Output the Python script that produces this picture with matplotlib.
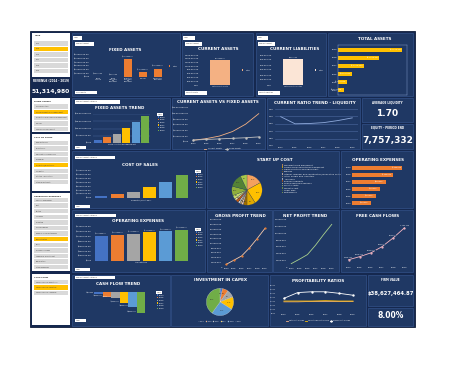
import numpy as np
import matplotlib.pyplot as plt
from matplotlib.patches import Rectangle
from matplotlib.ticker import FuncFormatter

W, H = 474, 366
BG = '#15284f'
PANEL = '#1f3864'
EDGE = '#3a5b95'
GRID = '#4d6aa0'
TXT = 'white'
TS = 1.5

# ---- data ----
years = ['2014', '2015', '2016', '2017', '2018', '2019']
year_colors = ['#4472c4', '#ed7d31', '#a5a5a5', '#ffc000', '#5b9bd5', '#70ad47']

slicer_fixed = ['Office furniture', 'Office computers and equipment',
                'Production machinery and equipment', 'Vehicles', 'Commercial equipment']
slicer_cos = ['Raw materials', 'Direct labor', 'Manufacturing overhead', 'Packaging',
              'Production/direct labor', 'Freight in', 'Utilities - production', 'Other direct costs']
slicer_opex = ['Salaries and wages', 'Rent', 'Utilities', 'Insurance', 'Marketing',
               'Office supplies', 'Repairs and maintenance', 'Administration', 'Travel',
               'Professional fees', 'Telephone and internet', 'Depreciation', 'Other expenses']
slicer_cash = ['Cash flow from operations', 'Cash flow from investing', 'Cash flow from financing']
revenue_total = '51,314,980'

fixed_cats = ['Office\nfurniture', 'Office\ncomputers\nand\nequipment', 'Production\nmachinery\nand\nequipment',
              'Vehicles', 'Commercial\nequipment']
fixed_vals = [120000, 60000, 4800000, 1400000, 2300000]

current_assets = 1350000
current_liabilities = 790000

total_assets = [3250000, 5150000, 8000000, 14700000, 23600000, 36500000]

fa_trend = [2300000, 4200000, 6000000, 10500000, 14200000, 18800000]

ca_line = [600000, 1200000, 2100000, 3700000, 6300000, 10000000]
fa_line = [700000, 900000, 1100000, 1300000, 1500000, 1800000]

current_ratio = [1.98, 1.50, 1.52, 1.58, 1.72, 1.90]
avg_liquidity = '1.70'
equity_end = '7,757,332'

cost_of_sales = [420000, 1000000, 1600000, 2800000, 4100000, 5900000]

startup_items = ['Manufacturing equipment', 'Commercial and kitchen equipment',
                 'Office furniture and equipment', 'Vehicles',
                 'Interior remodel and construction/renovation costs', 'Initial supply and inventory',
                 'Insurance', 'Business permits', 'Grand opening expenses', 'Facility costs',
                 'Website cost', 'Legal fees', 'Contingency']
startup_vals = [17, 24, 9, 4, 2, 2, 2, 3, 2, 4, 10, 14, 7]
startup_colors = ['#f4a15d', '#ffc000', '#e0a800', '#9c6b00', '#f8cbad', '#c9a66b', '#d9d9d9',
                  '#c55a11', '#ffe699', '#c5d96a', '#8fae3c', '#548235', '#a9c84a']

opex_years = [1290000, 1050000, 860000, 720000, 620000, 480000]  # 2019 .. 2014

opex_admin = [1020000, 1060000, 1130000, 1180000, 1220000, 1290000]

gross_profit = [1100000, 2900000, 4700000, 8100000, 12100000, 16400000]
net_profit = [1000000, 2300000, 3700000, 6500000, 9700000, 12700000]
free_cash = [1920450, 2876300, 4032870, 5951200, 8634500, 11702340]

cash_flow = [-550000, -1300000, -1600000, -3000000, -4000000, -5600000]

capex_share = [3, 7, 9, 15, 26, 40]

ratio_names = ['Net profit margin', 'Operating profit margin', 'Gross profit margin']
ratio_net = [0.29, 0.29, 0.30, 0.30, 0.30, 0.30]
ratio_op = [0.31, 0.31, 0.31, 0.32, 0.31, 0.31]
ratio_gross = [0.38, 0.53, 0.55, 0.55, 0.51, 0.46]

firm_value = '$38,627,464.87'
discount_rate = '8.00%'

money = FuncFormatter(lambda v, p: f'${v:,.2f}')
plain = FuncFormatter(lambda v, p: f'{v:,.2f}')

fig = plt.figure(figsize=(W / 100, H / 100), dpi=100)
fig.patch.set_facecolor('white')


def box(x0, y0, x1, y1, fc, ec='none', lw=0, z=-5):
    fig.patches.append(Rectangle((x0 / W, 1 - y1 / H), (x1 - x0) / W, (y1 - y0) / H,
                                 transform=fig.transFigure, fc=fc, ec=ec, lw=lw, zorder=z))


def label(x, y, s, size, color=TXT, weight='normal', ha='center'):
    fig.text(x / W, 1 - y / H, s, fontsize=size, color=color, fontweight=weight,
             ha=ha, va='center')


def title(x, y, s):
    label(x, y, s, 3.0, weight='bold')


def panel(x0, y0, x1, y1):
    box(x0, y0, x1, y1, PANEL, EDGE, 0.4)


def button(x0, y0, x1, y1, s):
    box(x0, y0, x1, y1, 'white', z=-1)
    label(x0 + 1, (y0 + y1) / 2, s, 1.2, color='#333333', ha='left')


def chart(x0, y0, x1, y1):
    ax = fig.add_axes([x0 / W, 1 - y1 / H, (x1 - x0) / W, (y1 - y0) / H])
    ax.set_facecolor('none')
    for s in ax.spines.values():
        s.set_visible(False)
    ax.tick_params(colors=TXT, labelsize=TS, length=0, pad=0.8)
    return ax


def year_legend(ax, handles, x, y):
    leg = ax.legend(handles, years, loc='upper left', bbox_to_anchor=(x / W, 1 - y / H),
                    bbox_transform=fig.transFigure, fontsize=1.5, frameon=False,
                    labelcolor=TXT, handlelength=0.6, handleheight=0.6, labelspacing=0.6,
                    title='Year', title_fontsize=1.5, borderpad=0, handletextpad=0.4)
    leg.get_title().set_color('#333333')
    leg.get_title().set_bbox(dict(fc='white', ec='none', pad=0.6))
    leg._legend_box.align = 'left'


def slicer(x0, y0, x1, y1, header, items, sel, first, step):
    box(x0, y0, x1, y1, 'white', z=-4)
    label(x0 + 2, y0 + 3, header, 1.5, color='#333333', weight='bold', ha='left')
    for i, it in enumerate(items):
        yy = first + i * step
        box(x0 + 2, yy - 2.2, x1 - 2, yy + 2.2, '#ffc000' if i == sel else '#d9d9d9', z=-3)
        label(x0 + 4, yy, it, 1.2, color='#404040', ha='left')


# ---- dashboard background ----
box(30, 31, 415, 327, BG, '#0e1c3a', 0.6, z=-6)

# ---- sidebar ----
slicer(32, 33, 70, 77, 'YEAR', years, 1, 43.3, 5.5)
label(51, 81, 'REVENUE (2014 - 2019)', 2.0, weight='bold')
label(51, 91, revenue_total, 4.3, weight='bold')
slicer(32, 98, 70, 132, 'FIXED ASSETS', slicer_fixed, 1, 106.5, 5.6)
slicer(32, 134, 70, 191, 'COST OF SALES', slicer_cos, 4, 142.7, 5.65)
slicer(32, 193, 70, 271, 'OPERATING EXPENSES', slicer_opex, 7, 200, 5.6)
slicer(32, 274, 70, 325, 'CASH FLOW', slicer_cash, 1, 282, 5.4)

# ---- row 1 ----
panel(72, 33, 180, 96)
button(73, 36, 82, 39.5, 'Year')
button(75, 42, 94, 45.5, 'Sum of Amount')
button(75, 90.5, 97, 94, 'Fixed assets')
title(125, 50, 'FIXED ASSETS')
ax = chart(91, 55, 165, 77)
bars = ax.bar(range(len(fixed_vals)), fixed_vals, color='#ed7d31', width=0.5, label='Total')
ax.set_ylim(0, 6000000)
ax.set_yticks(np.arange(0, 6000001, 1000000))
ax.yaxis.set_major_formatter(money)
ax.set_xticks(range(len(fixed_cats)))
ax.set_xticklabels(fixed_cats, fontsize=1.2, linespacing=0.9)
ax.axhline(0, color='#8faadc', lw=0.4)
ax.bar_label(bars, labels=[f'${v:,.2f}' for v in fixed_vals], fontsize=1.2, color=TXT, padding=0.8)
ax.legend(loc='center left', bbox_to_anchor=(1.03, 0.5), fontsize=1.5, frameon=False,
          labelcolor=TXT, handlelength=0.6, handleheight=0.6)

panel(182, 33, 253, 96)
button(183, 36, 195, 39.5, 'Year')
button(185, 42, 202, 45.5, 'Sum of Amount')
button(185, 91, 207, 94.5, 'Current assets')
title(218, 49, 'CURRENT ASSETS')
ax = chart(200, 55, 240, 85)
bars = ax.bar([0], [current_assets], color='#f4b183', width=1.0, label='Total')
ax.set_xlim(-1, 1)
ax.set_ylim(0, 1600000)
ax.set_yticks(np.arange(0, 1600001, 200000))
ax.yaxis.set_major_formatter(plain)
ax.set_xticks([0])
ax.set_xticklabels(['Total current assets'], fontsize=1.2)
ax.axhline(0, color='#8faadc', lw=0.4)
ax.bar_label(bars, labels=[f'{current_assets:,.2f}'], fontsize=1.2, color=TXT, padding=0.8)
ax.legend(loc='center left', bbox_to_anchor=(1.0, 0.5), fontsize=1.5, frameon=False,
          labelcolor=TXT, handlelength=0.6, handleheight=0.6)

panel(256, 33, 326, 96)
button(257, 36, 268, 39.5, 'Year')
button(258, 42, 275, 45.5, 'Sum of Amount')
button(258, 91, 280, 94.5, 'Current liabilities')
title(295, 49, 'CURRENT LIABILITIES')
ax = chart(273, 55, 313, 85)
bars = ax.bar([0], [current_liabilities], color='#fbe5d6', width=1.0, label='Total')
ax.set_xlim(-1, 1)
ax.set_ylim(0, 900000)
ax.set_yticks(np.arange(0, 900001, 150000))
ax.yaxis.set_major_formatter(plain)
ax.set_xticks([0])
ax.set_xticklabels(['Total current liabilities'], fontsize=1.2)
ax.axhline(0, color='#8faadc', lw=0.4)
ax.bar_label(bars, labels=[f'{current_liabilities:,.2f}'], fontsize=1.2, color=TXT, padding=0.8)
ax.legend(loc='center left', bbox_to_anchor=(1.0, 0.5), fontsize=1.5, frameon=False,
          labelcolor=TXT, handlelength=0.6, handleheight=0.6)

panel(328, 33, 413, 96)
title(375, 39, 'TOTAL ASSETS')
ax = chart(338, 45, 407, 95)
for s in ax.spines.values():
    s.set_visible(True)
    s.set_color('#8faadc')
    s.set_linewidth(0.3)
ypos = np.arange(len(years))
bars = ax.barh(ypos, total_assets, color='#ffc000', height=0.55)
ax.set_yticks(ypos)
ax.set_yticklabels(years)
ax.set_ylim(-0.6, 5.6)
ax.set_xlim(0, max(total_assets) * 1.08)
ax.set_xticks([])
ax.bar_label(bars, labels=[f'${v:,.0f}' for v in total_assets], fontsize=1.4, color=TXT,
             label_type='edge', padding=-9)

# ---- row 2 ----
panel(72, 98, 170, 149)
button(75, 100, 120, 103.5, 'Sum of Amount  Category')
button(75, 146, 86, 149, 'Year')
title(120, 108, 'FIXED ASSETS TREND')
ax = chart(93, 114, 150, 143)
hs = [ax.bar(i, v, color=c, width=0.85) for i, (v, c) in enumerate(zip(fa_trend, year_colors))]
ax.set_xlim(-0.5, 5.5)
ax.set_ylim(0, 20000000)
ax.set_yticks(np.arange(0, 20000001, 5000000))
ax.yaxis.set_major_formatter(money)
ax.grid(axis='y', color=GRID, lw=0.3)
ax.set_axisbelow(True)
ax.set_xticks([2.5])
ax.set_xticklabels(['Office furniture and equipment'], fontsize=1.3)
year_legend(ax, hs, 157, 113)

panel(172, 98, 265, 149)
title(218, 102, 'CURRENT ASSETS VS FIXED ASSETS')
ax = chart(190, 108, 262, 142)
ax.plot(years, ca_line, color='#f4b183', lw=0.6, label='Current assets')
ax.plot(years, fa_line, color='#bfbfbf', lw=0.6, marker='o', ms=0.8, mfc='#404040',
        label='Fixed assets')
ax.set_ylim(0, 12000000)
ax.set_yticks(np.arange(0, 12000001, 2000000))
ax.yaxis.set_major_formatter(money)
ax.axhline(0, color='#8faadc', lw=0.4)
ax.legend(loc='upper center', bbox_to_anchor=(0.45, -0.12), ncol=2, fontsize=1.4,
          frameon=False, labelcolor=TXT, handlelength=1.2)

panel(267, 98, 360, 149)
title(315, 102, 'CURRENT RATIO TREND - LIQUIDITY')
ax = chart(275, 109, 358, 146)
ax.plot(years, current_ratio, color='#8faadc', lw=0.6)
ax.set_ylim(0, 2.5)
ax.set_yticks(np.arange(0, 2.51, 0.5))
ax.yaxis.set_major_formatter(FuncFormatter(lambda v, p: f'{v:.2f}'))
ax.grid(axis='y', color=GRID, lw=0.4)
ax.set_xlim(-0.4, 5.4)

panel(362, 98, 413, 122)
label(387.5, 102, 'AVERAGE LIQUIDITY', 2.0, weight='bold')
label(387.5, 114, avg_liquidity, 6.5, weight='bold')
panel(362, 124, 413, 149)
label(387.5, 128, 'EQUITY - PERIOD END', 2.0, weight='bold')
label(387.5, 141, equity_end, 6.5, weight='bold')

# ---- row 3 ----
panel(72, 151, 205, 208)
button(75, 155.5, 115, 159, 'Sum of Amount  Category')
button(75, 205, 90, 208, 'Year')
title(140, 165, 'COST OF SALES')
ax = chart(93, 171, 190, 198)
hs = [ax.bar(i, v, color=c, width=0.78) for i, (v, c) in enumerate(zip(cost_of_sales, year_colors))]
ax.set_xlim(-0.5, 5.5)
ax.set_ylim(0, 7000000)
ax.set_yticks(np.arange(0, 7000001, 1000000))
ax.yaxis.set_major_formatter(money)
ax.axhline(0, color='#8faadc', lw=0.4)
ax.set_xticks([2.5])
ax.set_xticklabels(['Production/direct labor'], fontsize=1.3)
year_legend(ax, hs, 195, 170)

panel(207, 151, 339, 208)
title(275, 160, 'START UP COST')
ax = fig.add_axes([228 / W, 1 - 209 / H, 38 / W, 38 / H])
wedges, _, autos = ax.pie(startup_vals, colors=startup_colors, startangle=90, counterclock=False,
                          autopct='%1.0f%%', pctdistance=0.78,
                          textprops=dict(fontsize=1.4, color='#333333'),
                          wedgeprops=dict(ec='#1f3864', lw=0.15))
ax.set_aspect('equal')
ax.legend(wedges, startup_items, loc='upper left', bbox_to_anchor=(281 / W, 1 - 163 / H),
          bbox_transform=fig.transFigure, fontsize=1.6, frameon=False, labelcolor=TXT,
          handlelength=0.6, handleheight=0.6, labelspacing=0.35, borderpad=0, handletextpad=0.4)

panel(341, 151, 413, 208)
title(378, 160, 'OPERATING EXPENSES')
ax = chart(352, 164, 405, 207)
ypos = np.arange(len(years))
bars = ax.barh(ypos, opex_years, color='#ed7d31', height=0.55)
ax.set_yticks(ypos)
ax.set_yticklabels(years[::-1])
ax.invert_yaxis()
ax.set_xlim(0, max(opex_years) * 1.05)
ax.set_xticks([])
ax.bar_label(bars, labels=[f'${v:,.0f}' for v in opex_years], fontsize=1.3, color=TXT,
             label_type='edge', padding=-8)

# ---- row 4 ----
panel(72, 210, 205, 272)
button(75, 213.5, 116, 217, 'Sum of Amount  Category')
button(75, 267.5, 90, 271, 'Year')
title(138, 221, 'OPERATING EXPENSES')
ax = chart(93, 227, 190, 261)
hs = []
for i, (v, c) in enumerate(zip(opex_admin, year_colors)):
    b = ax.bar(i, v, color=c, width=0.8)
    ax.bar_label(b, labels=[f'${v:,.2f}'], fontsize=1.2, color=TXT, padding=0.6)
    hs.append(b)
ax.set_xlim(-0.5, 5.5)
ax.set_ylim(0, 1400000)
ax.set_yticks(np.arange(0, 1400001, 200000))
ax.yaxis.set_major_formatter(money)
ax.axhline(0, color='#8faadc', lw=0.4)
ax.set_xticks([2.5])
ax.set_xticklabels(['Administration'], fontsize=1.3)
year_legend(ax, hs, 195, 228)

panel(207, 210, 272, 272)
title(240, 216, 'GROSS PROFIT TREND')
ax = chart(223, 220, 268, 267)
ax.plot(years, gross_profit, color='#f8cbad', lw=0.6, marker='o', ms=0.6, mfc='#ed7d31', mec='#ed7d31')
ax.set_ylim(0, 20000000)
ax.set_yticks(np.arange(0, 20000001, 2000000))
ax.yaxis.set_major_formatter(FuncFormatter(lambda v, p: f'{v:,.0f}'))
ax.axhline(0, color='#8faadc', lw=0.4)
ax.set_xlim(-0.4, 5.4)

panel(273, 210, 339, 272)
title(305, 216, 'NET PROFIT TREND')
ax = chart(288, 220, 335, 267)
ax.plot(years, net_profit, color='#a9d18e', lw=0.6)
ax.set_ylim(0, 14000000)
ax.set_yticks(np.arange(0, 14000001, 2000000))
ax.yaxis.set_major_formatter(FuncFormatter(lambda v, p: f'{v:,.0f}'))
ax.axhline(0, color='#8faadc', lw=0.4)
ax.set_xlim(-0.4, 5.4)

panel(341, 210, 413, 272)
title(378, 216, 'FREE CASH FLOWS')
ax = chart(343, 222, 410, 266)
ax.plot(years, free_cash, color='#f4b6c2', lw=0.6, marker='o', ms=0.6)
for i, v in enumerate(free_cash):
    ax.text(i, v + 500000, f'{v:,.0f}', fontsize=1.3, color=TXT, ha='center', va='bottom',
            bbox=dict(fc=PANEL, ec='none', pad=0.2))
ax.set_ylim(0, 13500000)
ax.set_yticks([])
ax.axhline(0, color='#8faadc', lw=0.4)
ax.set_xlim(-0.5, 5.5)

# ---- row 5 ----
panel(72, 275, 170, 326)
button(75, 275.5, 115, 279, 'Sum of Amount  Category')
button(75, 318.5, 86, 322, 'Year')
title(118, 284, 'CASH FLOW TREND')
ax = chart(86, 291, 145, 314)
hs = []
for i, (v, c) in enumerate(zip(cash_flow, year_colors)):
    hs.append(ax.bar(i, v, color=c, width=1.0))
    ax.text(i - 0.5, v, f'-${abs(v):,.0f}', fontsize=1.2, color=TXT, ha='right', va='bottom')
ax.set_xlim(-1.5, 5.5)
ax.set_ylim(min(cash_flow) * 1.05, 300000)
ax.set_xticks([])
ax.set_yticks([])
year_legend(ax, hs, 156, 291)

panel(171, 275, 268, 326)
title(220, 280, 'INVESTMENT IN CAPEX')
ax = fig.add_axes([202 / W, 1 - 319 / H, 36 / W, 34 / H])
wedges, _, _ = ax.pie(capex_share, colors=year_colors, startangle=90, counterclock=False,
                      autopct='%1.0f%%', pctdistance=0.65,
                      textprops=dict(fontsize=1.4, color='#333333'),
                      wedgeprops=dict(ec='white', lw=0.15))
ax.set_aspect('equal')
ax.legend(wedges, years, loc='center', bbox_to_anchor=(220 / W, 1 - 321.5 / H),
          bbox_transform=fig.transFigure, ncol=6, fontsize=1.3, frameon=False, labelcolor=TXT,
          handlelength=0.5, handleheight=0.5, columnspacing=0.8, handletextpad=0.3, borderpad=0)

panel(270, 275, 366, 326)
title(318, 281, 'PROFITABILITY RATIOS')
ax = chart(277, 286, 360, 313)
ax.plot(years, ratio_net, color='#f4b183', lw=0.6, label=ratio_names[0])
ax.plot(years, ratio_op, color='#ffc000', lw=0.6, label=ratio_names[1])
ax.plot(years, ratio_gross, color='white', lw=0.6, marker='o', ms=0.7, label=ratio_names[2])
ax.set_ylim(0, 0.7)
ax.set_yticks(np.arange(0, 0.71, 0.1))
ax.yaxis.set_major_formatter(FuncFormatter(lambda v, p: f'{v:.2%}'))
ax.tick_params(axis='y', labelsize=1.2)
ax.set_xlim(-0.5, 5.5)
ax.legend(loc='center', bbox_to_anchor=(318 / W, 1 - 320.5 / H), bbox_transform=fig.transFigure,
          ncol=3, fontsize=1.3, frameon=False, labelcolor=TXT, handlelength=1.2,
          columnspacing=0.8, handletextpad=0.3, borderpad=0)

panel(368, 275, 413, 306)
label(390.5, 280, 'FIRM VALUE', 2.0, weight='bold')
label(390.5, 294, firm_value, 3.8, weight='bold')
panel(368, 308, 413, 326)
label(390.5, 316, discount_rate, 5.5, weight='bold')

fig.savefig('out.png', dpi=100, facecolor='white')
